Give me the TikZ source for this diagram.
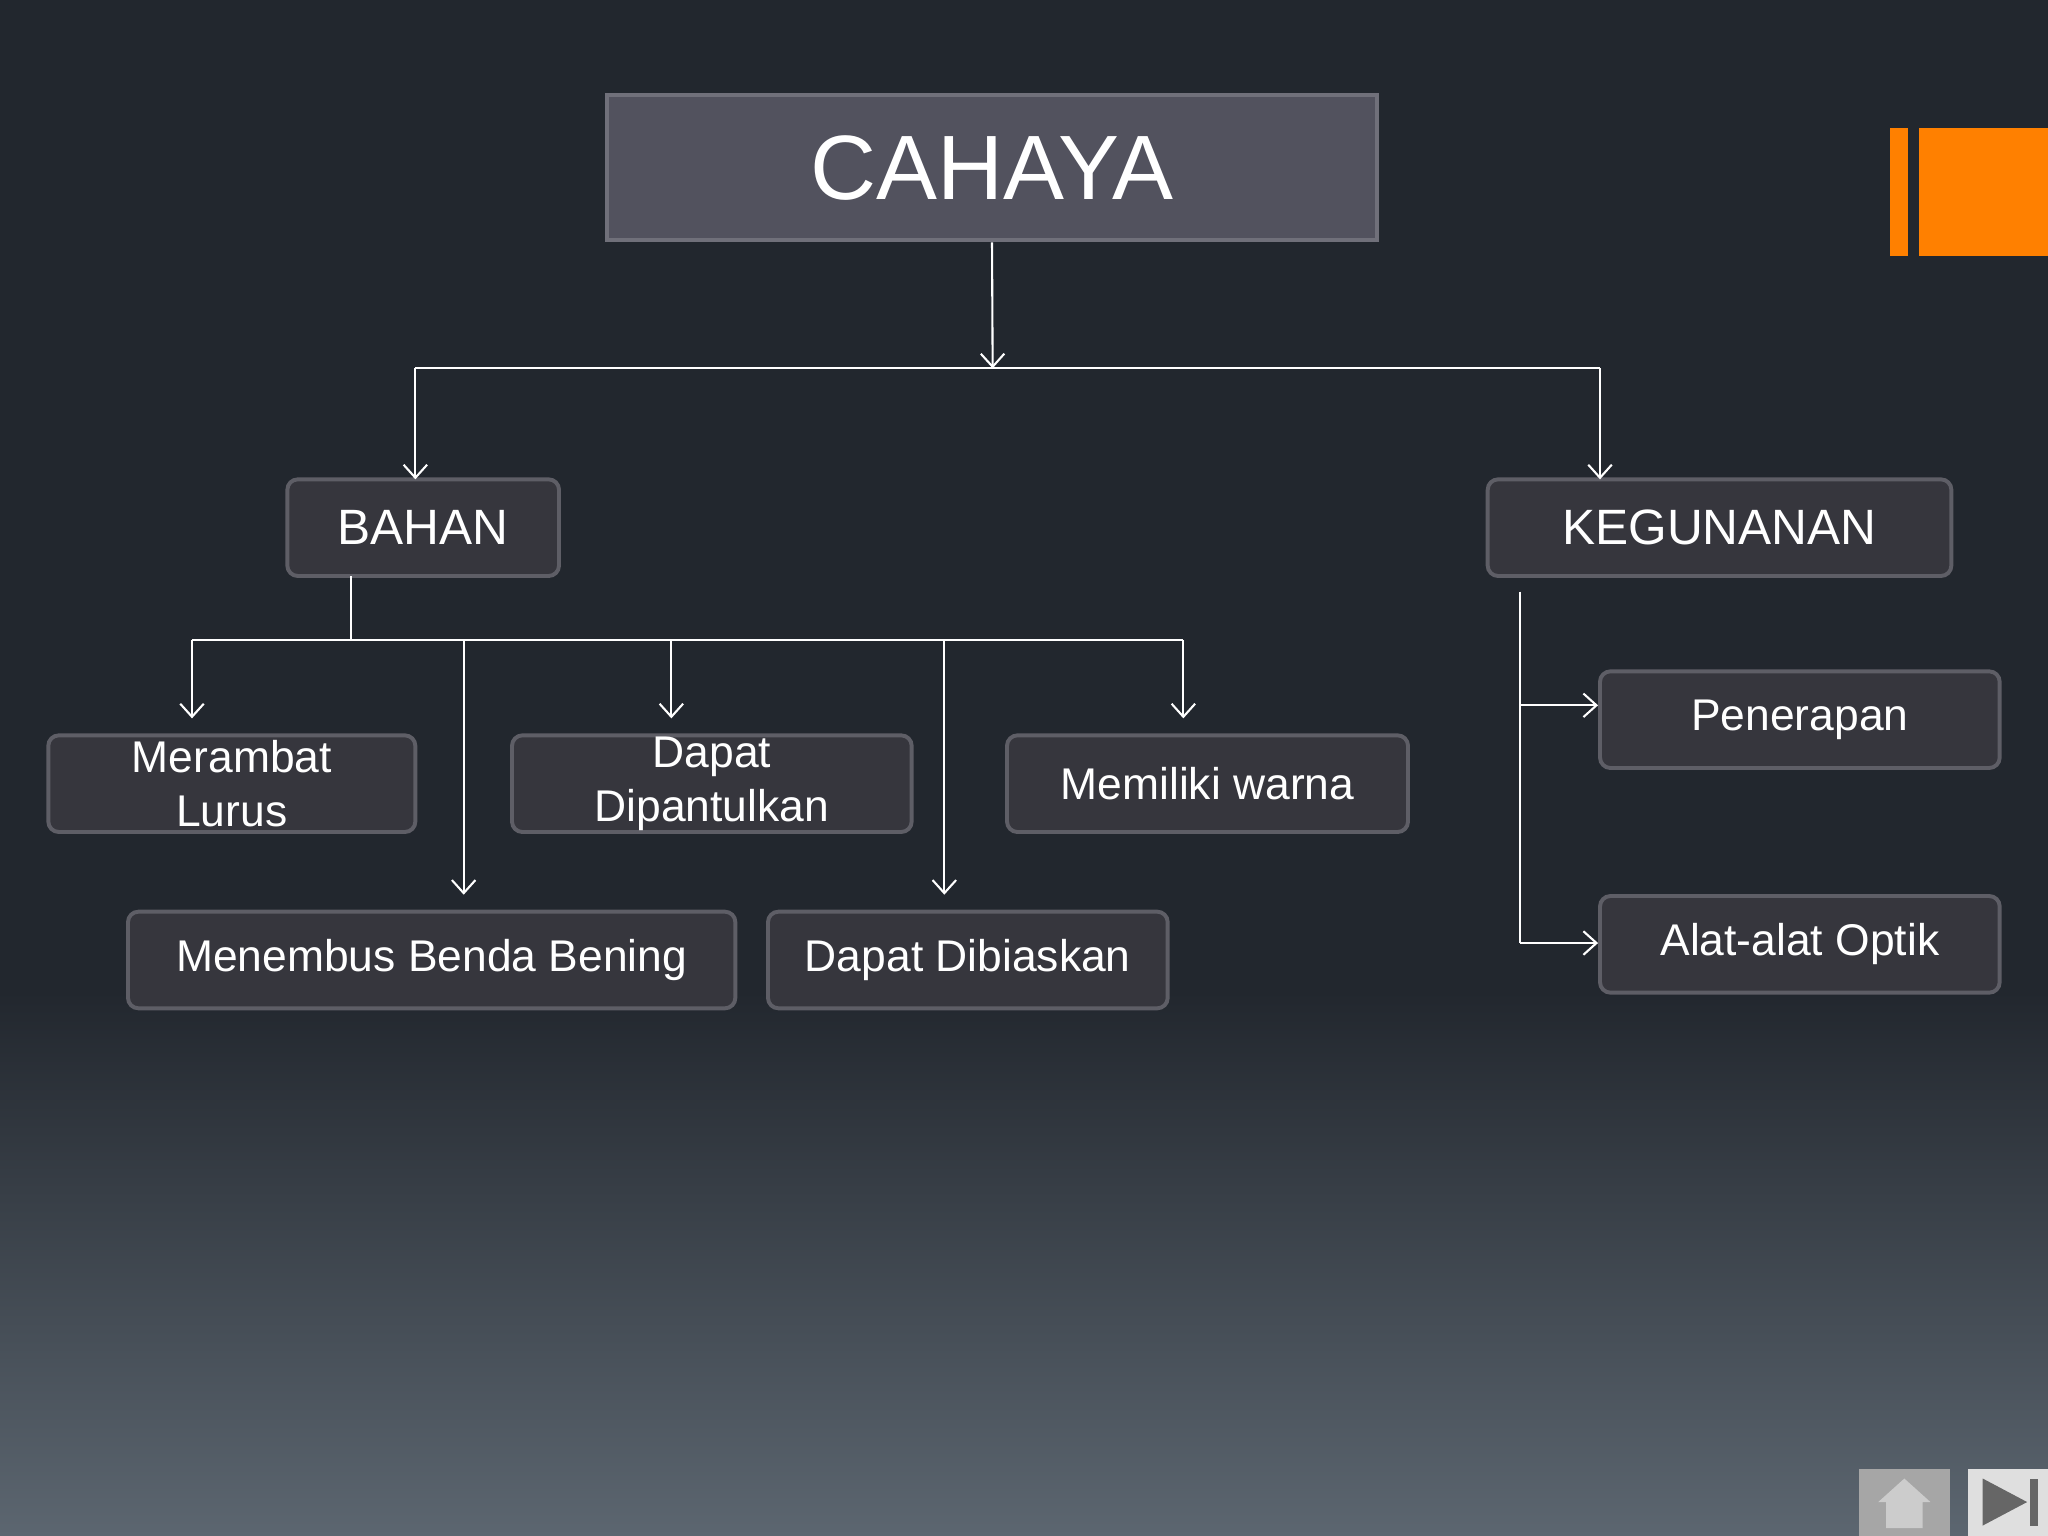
\documentclass[tikz,border=0pt]{standalone}
\usepackage{fontspec}
\setmainfont{Liberation Sans}
\usetikzlibrary{arrows.meta}
\definecolor{bgtop}{HTML}{22272E}
\definecolor{bgbot}{HTML}{5C6670}
\definecolor{boxf}{HTML}{36363D}
\definecolor{boxd}{HTML}{5E5E66}
\definecolor{topf}{HTML}{52525E}
\definecolor{topd}{HTML}{70707A}
\definecolor{orng}{HTML}{FF8000}
\begin{document}
\begin{tikzpicture}[x=0.5pt,y=-0.5pt,
  bx/.style={draw=boxd,line width=1.5pt,fill=boxf,rounded corners=4pt,text=white,align=center,inner sep=0pt},
  ln/.style={draw=white,line width=0.8pt},
  ar/.style={ln,-{Straight Barb[length=5pt,width=9pt]}}]
\useasboundingbox (0,0) rectangle (1568,1176);
\fill[bgtop] (0,0) rectangle (1568,760);
\shade[top color=bgtop,bottom color=bgbot] (0,759) rectangle (1568,1176);
\fill[orng] (1447,98) rectangle (1461,196);
\fill[orng] (1469,98) rectangle (1568,196);
% buttons
\fill[gray!70] (1423,1125) rectangle (1493,1176);
\fill[gray!40] (1438,1150) -- (1458,1132) -- (1478,1150) -- (1472,1150) -- (1472,1170) -- (1444,1170) -- (1444,1150) -- cycle;
\fill[gray!25] (1507,1125) rectangle (1568,1176);
\fill[gray!80!black] (1518,1132) -- (1552,1150) -- (1518,1168) -- cycle;
\fill[gray!80!black] (1554,1132) rectangle (1560,1168);

\node[draw=topd,line width=1.5pt,fill=topf,text=white,minimum width=294.5pt,minimum height=55.5pt,font=\fontsize{35}{40}\selectfont] (c) at (759.5,128.5) {CAHAYA};
\node[bx,minimum width=104pt,minimum height=37pt,font=\fontsize{19}{22}\selectfont] (b) at (324,404) {BAHAN};
\node[bx,minimum width=177.5pt,minimum height=37pt,font=\fontsize{19}{22}\selectfont] (k) at (1316.5,404) {KEGUNANAN};
\tikzset{sm/.style={bx,minimum height=37pt,font=\fontsize{17}{20.5}\selectfont}}
\node[sm,minimum width=140.5pt] (m1) at (177.5,600) {Merambat\\Lurus};
\node[sm,minimum width=153pt] (m2) at (545,600) {Dapat\\Dipantulkan};
\node[sm,minimum width=153.5pt] (m3) at (924.5,600) {Memiliki warna};
\node[sm,minimum width=232.5pt] (m4) at (330.5,735) {Menembus Benda Bening};
\node[sm,minimum width=153pt] (m5) at (741,735) {Dapat Dibiaskan};
\node[sm,minimum width=153pt] (p1) at (1378,551) {Penerapan};
\node[sm,minimum width=153pt] (p2) at (1378,723) {Alat-alat Optik};

\coordinate (j0) at (760,282);
\draw[ar] (c.south) -- (j0);
\draw[ln] (318,282) -- (1225,282);
\draw[ar] (318,282) -- (318,367);
\draw[ar] (1225,282) -- (1225,367);
\draw[ln] (269,441) -- (269,490);
\draw[ln] (147,490) -- (906,490);
\draw[ar] (147,490) -- (147,550);
\draw[ar] (355,490) -- (355,685);
\draw[ar] (514,490) -- (514,550);
\draw[ar] (723,490) -- (723,685);
\draw[ar] (906,490) -- (906,550);
\draw[ln] (1164,453) -- (1164,722);
\draw[ar] (1164,540) -- (p1.west|-1164,540);
\draw[ar] (1164,722) -- (p2.west|-1164,722);
\end{tikzpicture}
\end{document}
